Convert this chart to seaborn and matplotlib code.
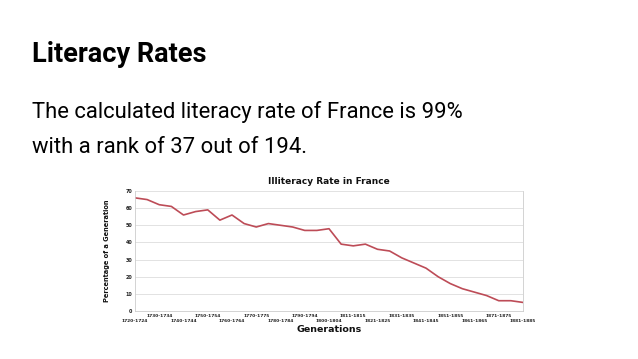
import numpy as np
import pandas as pd
import seaborn as sns
import matplotlib.pyplot as plt

# illiteracy (% of a generation), 5-year generations 1720 -> 1885
rate = [66, 65, 62, 61, 56, 58, 59, 53, 56, 51, 49, 51, 50, 49, 47, 47, 48,
        39, 38, 39, 36, 35, 31, 28, 25, 20, 16, 13, 11, 9, 6, 6, 5]
tick_labels = ["1720-1724", "1730-1734", "1740-1744", "1750-1754", "1760-1764",
               "1770-1775", "1780-1784", "1790-1794", "1800-1804", "1811-1815",
               "1821-1825", "1831-1835", "1841-1845", "1851-1855", "1861-1865",
               "1871-1875", "1881-1885"]
yticks = [0, 10, 20, 30, 40, 50, 60, 70]

df = pd.DataFrame({"gen": np.arange(len(rate)), "rate": rate})

sns.set_theme(style="white")
plt.rcParams['font.family'] = ['DejaVu Sans']

fig = plt.figure(figsize=(6.38, 3.59), dpi=100)

# slide text
fig.text(32/638, 1 - 62/359, "Literacy Rates", fontsize=19.5, fontweight="bold",
         family=["Roboto", "DejaVu Sans"], color="black",
         ha="left", va="baseline")
fig.text(32/638, 1 - 118/359, "The calculated literacy rate of France is 99%",
         fontsize=15.8, family=["Roboto", "Liberation Sans"], color="black",
         ha="left", va="baseline")
fig.text(32/638, 1 - 153/359, "with a rank of 37 out of 194.",
         fontsize=15.8, family=["Roboto", "Liberation Sans"], color="black",
         ha="left", va="baseline")

ax = fig.add_axes([135/638, 1 - 311/359, 388/638, 120/359])
sns.lineplot(data=df, x="gen", y="rate", ax=ax, color="#bd4c57", linewidth=1.2)

ax.set_xlim(0, len(rate) - 1)
ax.set_ylim(0, 70)
ax.set_yticks(yticks)
ax.set_yticklabels([str(v) for v in yticks], fontsize=3.5, fontweight="bold",
                   color="#222222")
ax.set_xticks(np.arange(0, len(rate), 2))
ax.set_xticklabels([("\n" + t) if i % 2 == 0 else t for i, t in enumerate(tick_labels)],
                   fontsize=3.2, fontweight="bold", color="#222222", linespacing=1.25)
ax.tick_params(axis="both", length=0, pad=2)
ax.grid(axis="y", color="#dddddd", linewidth=0.6)
for s in ["left", "right", "bottom"]:
    ax.spines[s].set_color("#cccccc")
    ax.spines[s].set_linewidth(0.6)
ax.spines["top"].set_visible(False)

ax.set_title("Illiteracy Rate in France", fontsize=6.5, fontweight="bold", pad=5,
             color="#111111")
ax.set_xlabel("Generations", fontsize=6.8, fontweight="bold", labelpad=2,
              color="#111111")
ax.set_ylabel("Percentage of a Generation", fontsize=4.8, fontweight="bold",
              labelpad=11, color="#111111")

fig.savefig("out.png", dpi=100)
